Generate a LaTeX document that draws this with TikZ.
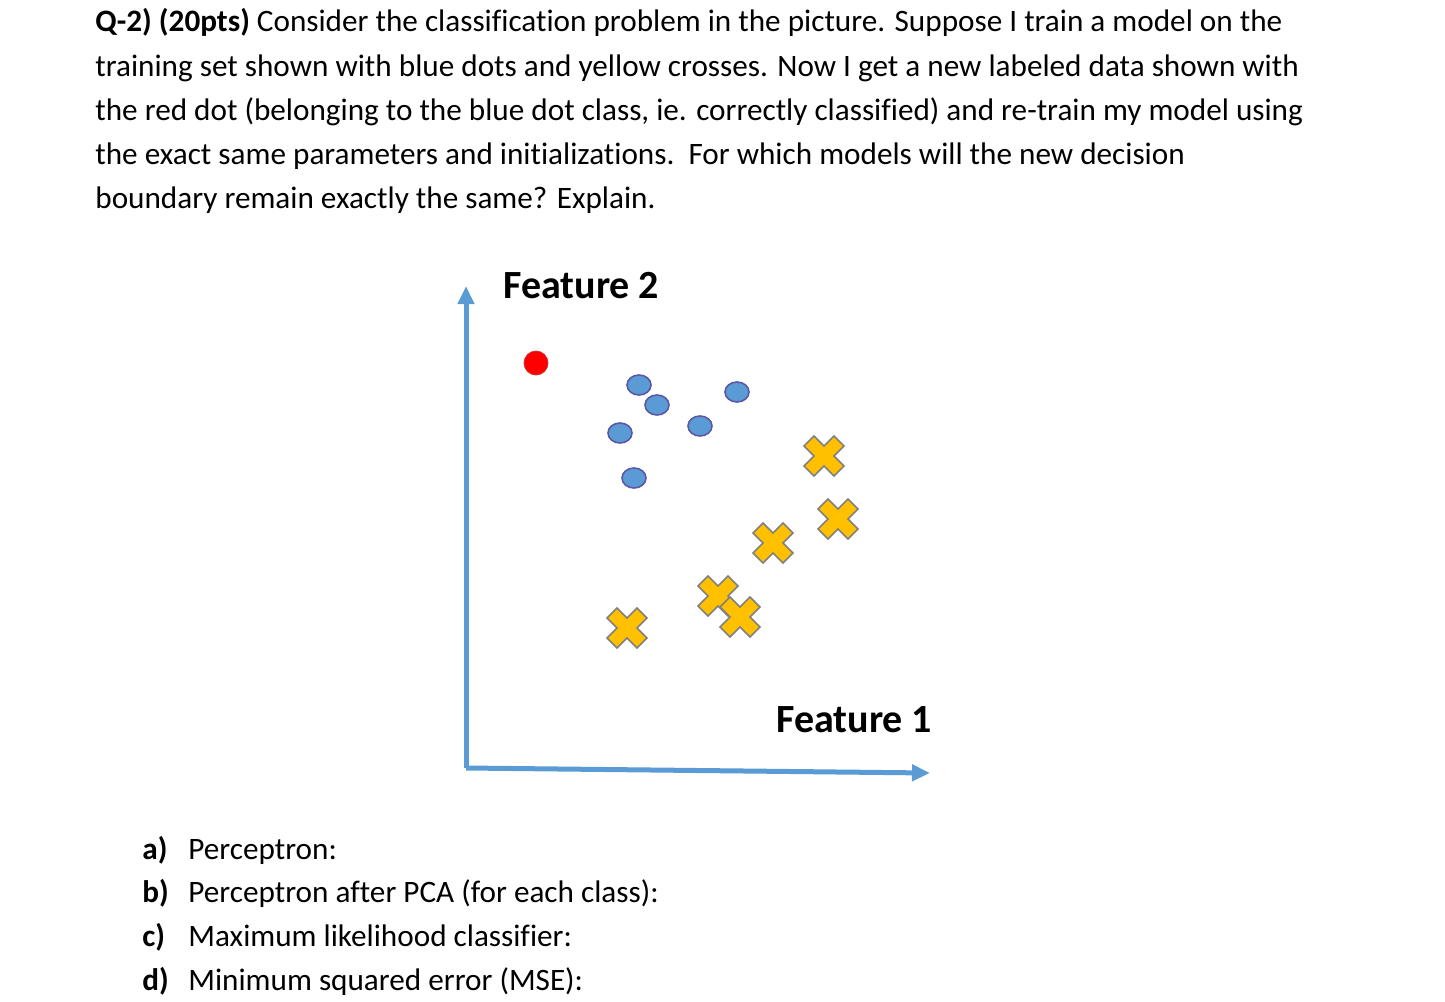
\documentclass[tikz,border=0pt]{standalone}
\usepackage{fontspec}
\setmainfont{Carlito}[Ligatures=NoCommon]
\begin{document}
\begin{tikzpicture}[x=0.5pt,y=-0.5pt,
  txt/.style={anchor=base west,inner sep=0pt,font=\fontsize{15.6}{18}\selectfont},
  feat/.style={anchor=base west,inner sep=0pt,font=\fontsize{20}{22}\selectfont\bfseries},
  axis/.style={draw=axblue,line width=2.5pt,-{Triangle[length=9pt,width=8pt]}},
  bdot/.style={ellipse,draw=gray!70!blue,fill=dotblue,line width=0.8pt,minimum width=12pt,minimum height=10pt,inner sep=0pt},
  rdot/.style={circle,fill=red,draw=red!60!gray,minimum size=12pt,inner sep=0pt}]
\usetikzlibrary{arrows.meta,shapes.geometric}
\definecolor{axblue}{RGB}{91,155,213}
\definecolor{dotblue}{RGB}{91,155,213}
\definecolor{xyellow}{RGB}{255,192,0}
\tikzset{xmark/.pic={\fill[xyellow,draw=gray,line width=0.8pt]
  (-20,-10)--(-10,-20)--(0,-10)--(10,-20)--(20,-10)--(10,0)--(20,10)--(10,20)--(0,10)--(-10,20)--(-20,10)--(-10,0)--cycle;}}
\useasboundingbox (0,0) rectangle (1445,1001);
\node[txt] (l1) at (95,32) {\textbf{Q-2) (20pts)} Consider the classification problem in the picture. Suppose I train a model on the};
\node[txt] (l2) at (95,76) {training set shown with blue dots and yellow crosses. Now I get a new labeled data shown with};
\node[txt] (l3) at (95,120) {the red dot (belonging to the blue dot class, ie. correctly classified) and re-train my model using};
\node[txt] (l4) at (95,164) {the exact same parameters and initializations.\ \ For which models will the new decision};
\node[txt] (l5) at (95,208) {boundary remain exactly the same? Explain.};
\coordinate (o) at (466,768);
\coordinate (yt) at (466,286);
\coordinate (xt) at (930,773);
\draw[axis] (o) -- (yt);
\draw[axis] (o) -- (xt);
\node[feat] (f2) at (503,298) {Feature 2};
\node[feat] (f1) at (776,732) {Feature 1};
\node[rdot] (r) at (536,363) {};
\foreach \p/\q [count=\i] in {639/385,657/405,620/433,700/426,737/392,634/478}
  \node[bdot] (b\i) at (\p,\q) {};
\foreach \p/\q in {824/456,838/519,773/543,718/596,740/617,627/628}
  \pic at (\p,\q) {xmark};
\node[txt,font=\fontsize{15.6}{18}\selectfont\bfseries] (a) at (142,859) {a)};
\node[txt] (at) at (188,859) {Perceptron:};
\node[txt,font=\fontsize{15.6}{18}\selectfont\bfseries] (b) at (142,902) {b)};
\node[txt] (bt) at (188,902) {Perceptron after PCA (for each class):};
\node[txt,font=\fontsize{15.6}{18}\selectfont\bfseries] (c) at (142,946) {c)};
\node[txt] (ct) at (188,946) {Maximum likelihood classifier:};
\node[txt,font=\fontsize{15.6}{18}\selectfont\bfseries] (d) at (142,990) {d)};
\node[txt] (dt) at (188,990) {Minimum squared error (MSE):};
\end{tikzpicture}
\end{document}
